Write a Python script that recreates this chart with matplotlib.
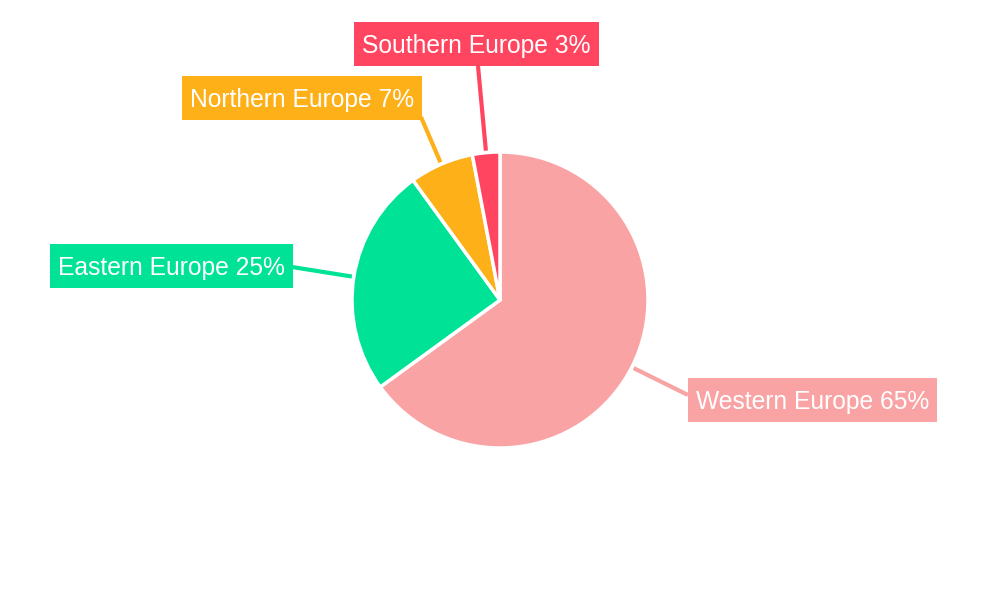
import numpy as np
import matplotlib.pyplot as plt
from matplotlib.patches import Rectangle

# --- data ---
regions = ['Western Europe', 'Eastern Europe', 'Northern Europe', 'Southern Europe']
shares = [65, 25, 7, 3]
colors = ['#F9A3A4', '#00E396', '#FEB019', '#FF4560']

# --- layout (pixel coords, y measured from top) ---
CX, CY, R = 500, 300, 148
label_pos = [(696, 400), (58, 266), (190, 98), (362, 44)]      # text left / box centre y
leader_end = [(688, 395), (292, 267), (421, 117), (478, 66)]
FS = 17.7
BOX_H = 44
PAD_X = 8

plt.rcParams['font.family'] = ['Liberation Sans', 'DejaVu Sans']

fig = plt.figure(figsize=(10, 6), dpi=100)
ax = fig.add_axes([0, 0, 1, 1])

ax.pie(shares, colors=colors, startangle=90, counterclock=False,
       center=(CX, 600 - CY), radius=R,
       wedgeprops=dict(edgecolor='white', linewidth=2.5))
ax.set_xlim(0, 1000)
ax.set_ylim(0, 600)
ax.set_aspect('equal')
ax.axis('off')

total = sum(shares)
start = 90.0
texts = []
cap = 0.72 * FS * 100 / 72  # cap height in px
for name, val, col, (tx, ty), (ex, ey) in zip(regions, shares, colors, label_pos, leader_end):
    span = val / total * 360
    mid = np.deg2rad(start - span / 2)
    start -= span
    sx = CX + (R + 2) * np.cos(mid)
    sy = CY - (R + 2) * np.sin(mid)
    ax.plot([sx, ex], [600 - sy, 600 - ey], color=col, lw=3, solid_capstyle='butt', zorder=1)
    t = ax.text(tx, 600 - (ty + cap / 2), f'{name} {val}%', color='white', fontsize=FS,
                ha='left', va='baseline', zorder=4)
    texts.append((t, col, tx, ty))

fig.canvas.draw()
r = fig.canvas.get_renderer()
for t, col, tx, ty in texts:
    bb = t.get_window_extent(renderer=r)
    ax.add_patch(Rectangle((tx - PAD_X, 600 - ty - BOX_H / 2), bb.width + 2 * PAD_X, BOX_H,
                           fc=col, ec='none', zorder=3))

plt.savefig('out.png', dpi=100)
